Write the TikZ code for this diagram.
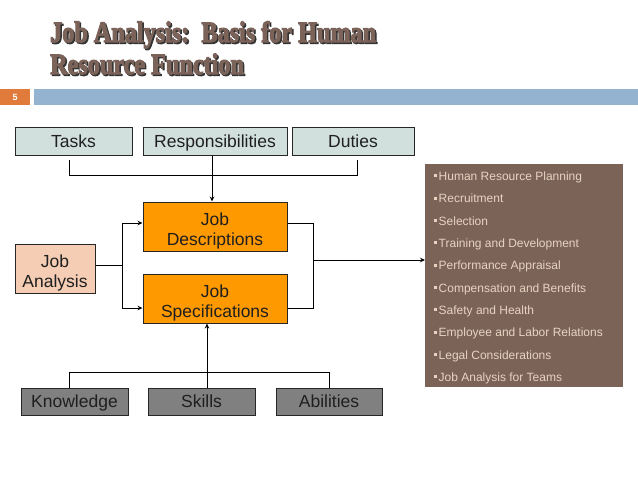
\documentclass[tikz,border=0pt]{standalone}
\usepackage{fontspec}
\setmainfont{Liberation Sans}
\newfontfamily\titlefont[FakeBold=4]{Liberation Serif Bold}
\usetikzlibrary{arrows.meta,calc}
\definecolor{titlebrown}{HTML}{7B6359}
\definecolor{listfill}{HTML}{7B6358}
\definecolor{listtext}{HTML}{E8D3C1}
\definecolor{topfill}{HTML}{D2E0DD}
\definecolor{orangefill}{HTML}{FF9900}
\definecolor{jafill}{HTML}{F4CDB4}
\definecolor{grayfill}{HTML}{808080}
\definecolor{numorange}{HTML}{E07B3B}
\definecolor{barblue}{HTML}{93B3D0}
\newcommand\twol[2]{\raisebox{0pt}[38pt][0pt]{\begin{tabular}[b]{@{}c@{}}#1\\#2\end{tabular}}}
\tikzset{
  box/.style={draw=black!85, line width=1, inner sep=0pt, align=center,
     font=\fontsize{17.5}{20.5}\selectfont, text=black!88},
  oneline/.style={text height=12.6, text depth=0},
  topbox/.style={box, oneline, fill=topfill, minimum height=28},
  orbox/.style={box, fill=orangefill, minimum width=144, minimum height=49},
  jabox/.style={box, fill=jafill, minimum width=80, minimum height=49},
  graybox/.style={box, oneline, fill=grayfill, minimum height=27},
  conn/.style={line width=1, draw=black},
  arr/.style={conn, -{Stealth[length=5,width=4.5]}},
  item/.style={anchor=base west, inner sep=0pt, text=listtext, font=\fontsize{12}{14}\selectfont},
  titletext/.style={anchor=base west, inner sep=0pt, font=\fontsize{29.5}{32}\titlefont, xscale=0.82}
}
\begin{document}
\begin{tikzpicture}[x=1pt,y=-1pt]
\useasboundingbox (0,0) rectangle (638,479);
\fill[white] (0,0) rectangle (638,479);
% title
\foreach \t/\yy in {{Job Analysis:\ \ Basis for Human}/42, {Resource Function}/74}{
  \node[titletext, text=black!80] at (51.5,\yy+1.5) {\t};
  \node[titletext, text=titlebrown] at (50,\yy) {\t};
}
% header bar
\node[fill=numorange, minimum width=30, minimum height=16, inner sep=0pt, anchor=north west,
  text=white, font=\fontsize{9}{10}\selectfont\bfseries] (num) at (0,89) {5};
\fill[barblue] (34,89) rectangle (638,105);
% top boxes
\node[topbox, minimum width=117] (tasks) at (73.5,141) {Tasks};
\node[topbox, minimum width=144] (resp) at (215,141) {Responsibilities};
\node[topbox, minimum width=122] (duties) at (353,141) {Duties};
% middle
\node[orbox] (jd) at (215,226.5) {\twol{Job}{Descriptions}};
\node[orbox] (js) at (215,298.5) {\twol{Job}{Specifications}};
\node[jabox] (ja) at (55,268.5) {\twol{Job}{Analysis}};
% bottom
\node[graybox, minimum width=107] (know) at (74.5,401.5) {Knowledge};
\node[graybox, minimum width=107] (skills) at (201.5,401.5) {Skills};
\node[graybox, minimum width=106] (abil) at (329,401.5) {Abilities};
% list box
\node[fill=listfill, minimum width=198, minimum height=223, inner sep=0pt, anchor=north west] (list) at (425,164) {};
\foreach \s [count=\i from 0] in {Human Resource Planning, Recruitment, Selection, Training and Development,
  Performance Appraisal, Compensation and Benefits, Safety and Health, Employee and Labor Relations,
  Legal Considerations, Job Analysis for Teams}{
  \fill[listtext] (433.5,{180.3+22.35*\i-6}) rectangle ++(3,3);
  \node[item] (it\i) at (438.5,{180.3+22.35*\i}) {\s};
}
% connectors top
\coordinate (tl) at ($(tasks.south)+(-4.5,4)$);
\coordinate (dl) at ($(duties.south)+(4,4)$);
\draw[conn] (tl) -- (tl |- 0,175) -- (dl |- 0,175) -- (dl);
\draw[arr] ([xshift=-3]resp.south) -- ([xshift=-3]jd.north);
% job analysis fork
\coordinate (jaf) at (122,265);
\draw[conn] (ja.east |- jaf) -- (jaf);
\draw[arr] (jaf) -- (122,223) -- (jd.west |- 0,223);
\draw[arr] (jaf) -- (122,308) -- (js.west |- 0,308);
% merge to list
\coordinate (mg) at (313,260);
\draw[conn] (jd.east |- 0,223) -- (313,223) -- (313,308) -- (js.east |- 0,308);
\draw[arr] (mg) -- (list.west |- mg);
% bottom connectors
\draw[arr] (skills.north -| 207,0) -- (js.south -| 207,0);
\draw[conn] (know.north -| 69,0) -- (69,372) -- (329,372) -- (abil.north -| 329,0);
\end{tikzpicture}
\end{document}
